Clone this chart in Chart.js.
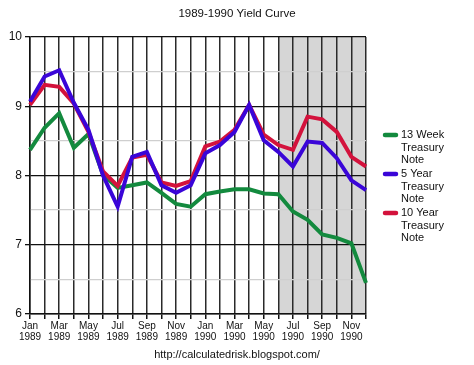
<!DOCTYPE html>
<html>
<head>
<meta charset="utf-8">
<script src="https://cdn.jsdelivr.net/npm/chart.js@4/dist/chart.umd.min.js"></script>
<style>
html,body{margin:0;padding:0;background:#fff;}
#wrap{width:474px;height:365px;position:relative;}
</style>
</head>
<body>
<div id="wrap"><canvas id="c" width="474" height="365"></canvas></div>
<script>
const months = [
  ['Jan','1989'],['Feb','1989'],['Mar','1989'],['Apr','1989'],['May','1989'],['Jun','1989'],
  ['Jul','1989'],['Aug','1989'],['Sep','1989'],['Oct','1989'],['Nov','1989'],['Dec','1989'],
  ['Jan','1990'],['Feb','1990'],['Mar','1990'],['Apr','1990'],['May','1990'],['Jun','1990'],
  ['Jul','1990'],['Aug','1990'],['Sep','1990'],['Oct','1990'],['Nov','1990'],['Dec','1990']
];
const week13 = [8.37,8.69,8.90,8.40,8.60,8.01,7.82,7.86,7.90,7.75,7.59,7.55,
                7.73,7.77,7.80,7.80,7.74,7.73,7.48,7.36,7.15,7.10,7.02,6.45];
const year5  = [9.07,9.43,9.52,9.05,8.66,8.00,7.55,8.27,8.34,7.86,7.75,7.86,
                8.32,8.44,8.63,9.02,8.51,8.34,8.13,8.49,8.47,8.25,7.93,7.79];
const year10 = [9.02,9.31,9.28,9.04,8.63,8.06,7.85,8.26,8.30,7.90,7.85,7.92,
                8.42,8.49,8.66,9.02,8.59,8.44,8.37,8.85,8.81,8.63,8.27,8.13];
const yTicks = [6,7,8,9,10];
const shadeStart = 17; // Jun 1990
const titleText = '1989-1990 Yield Curve';
const sourceText = 'http://calculatedrisk.blogspot.com/';
const legendItems = [
  {lines:['13 Week','Treasury','Note'], color:'#138a3e'},
  {lines:['5 Year','Treasury','Note'], color:'#3a05d8'},
  {lines:['10 Year','Treasury','Note'], color:'#d3123c'}
];
const FONT = '"Liberation Sans", Arial, sans-serif';

const extras = {
  id:'extras',
  beforeDraw(chart){
    const ctx = chart.ctx, a = chart.chartArea, xs = chart.scales.x;
    ctx.save();
    ctx.fillStyle = '#fff';
    ctx.fillRect(0,0,chart.width,chart.height);
    const x0 = xs.getPixelForValue(shadeStart);
    ctx.fillStyle = '#d6d6d6';
    ctx.fillRect(x0, a.top, a.right - x0, a.bottom - a.top);
    ctx.restore();
  },
  afterDraw(chart){
    const ctx = chart.ctx;
    ctx.save();
    ctx.fillStyle = '#111';
    ctx.textAlign = 'center';
    ctx.textBaseline = 'middle';
    ctx.font = '11.5px ' + FONT;
    ctx.fillText(titleText, 237, 14);
    ctx.font = '11px ' + FONT;
    ctx.fillText(sourceText, 237, 355);
    // legend
    ctx.textAlign = 'left';
    ctx.font = '11px ' + FONT;
    let y = 135;
    legendItems.forEach(it => {
      ctx.strokeStyle = it.color;
      ctx.lineWidth = 4.5;
      ctx.lineCap = 'round';
      ctx.beginPath();
      ctx.moveTo(385, y); ctx.lineTo(396, y);
      ctx.stroke();
      ctx.fillStyle = '#111';
      it.lines.forEach((t,i) => ctx.fillText(t, 401, y + i*12.7));
      y += 39;
    });
    ctx.restore();
  }
};

new Chart(document.getElementById('c'), {
  type:'line',
  data:{
    labels: months,
    datasets:[
      {label:'13 Week Treasury Note', data:week13, borderColor:legendItems[0].color, order:2},
      {label:'5 Year Treasury Note', data:year5, borderColor:legendItems[1].color, order:0},
      {label:'10 Year Treasury Note', data:year10, borderColor:legendItems[2].color, order:1}
    ]
  },
  options:{
    responsive:false,
    animation:false,
    layout:{padding:{top:37,right:108,bottom:21,left:0}},
    elements:{
      line:{borderWidth:4, tension:0, fill:false},
      point:{radius:0, hoverRadius:0}
    },
    plugins:{legend:{display:false}, title:{display:false}, tooltip:{enabled:false}},
    scales:{
      x:{
        type:'category',
        offset:false,
        border:{display:true, color:'#111', width:1.5},
        grid:{color:'#2a2a2a', lineWidth:1.5, tickLength:5, tickColor:'#111', offset:false},
        ticks:{
          autoSkip:false, maxRotation:0, minRotation:0, padding:2,
          color:'#111', font:{family:FONT, size:10, lineHeight:1.05},
          callback:function(v,i){ return i % 2 === 0 ? months[i] : ''; }
        },
        afterFit(s){ s.height = 30; }
      },
      y:{
        min:6, max:10,
        border:{display:true, color:'#111', width:1.5},
        grid:{
          lineWidth:1.3,
          color:(c)=> Number.isInteger(c.tick.value) ? '#111' : '#cfcfcf',
          tickColor:(c)=> Number.isInteger(c.tick.value) ? '#111' : 'rgba(0,0,0,0)',
          tickLength:5
        },
        ticks:{
          stepSize:0.5, padding:3, color:'#111', font:{family:FONT, size:12},
          callback:(v)=> yTicks.includes(v) ? String(v) : ''
        },
        afterFit(s){ s.width = 30; }
      }
    }
  },
  plugins:[extras]
});
</script>
</body>
</html>
